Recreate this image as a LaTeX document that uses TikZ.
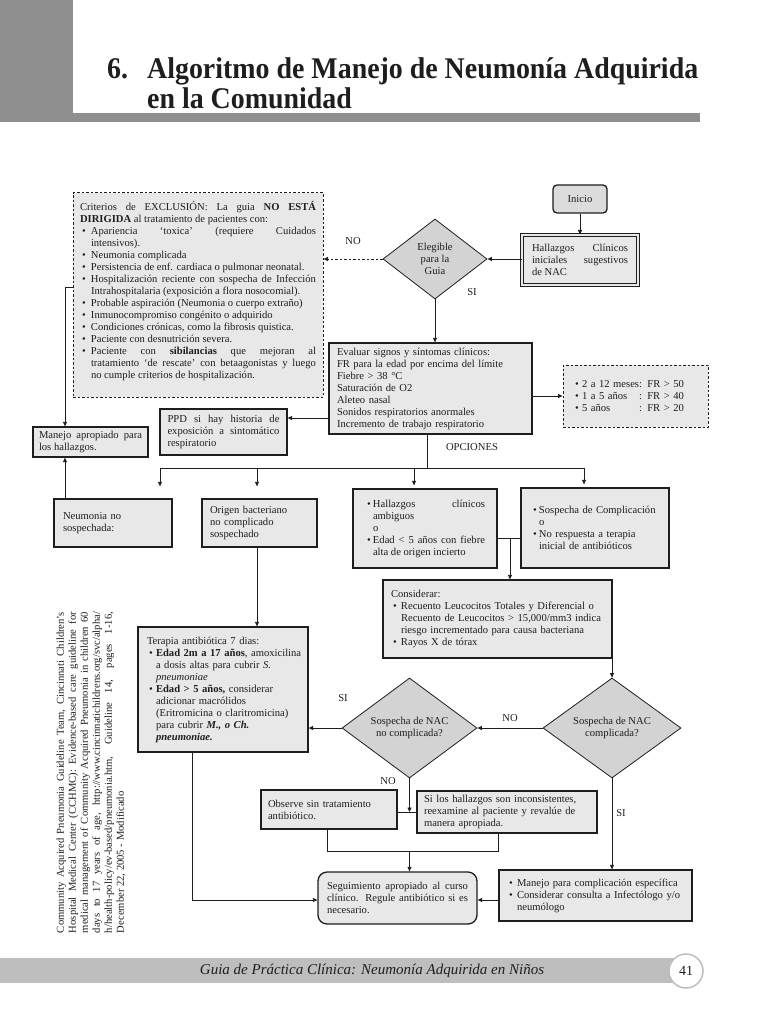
\documentclass[tikz,border=0pt]{standalone}
\usepackage{fontspec}
\setmainfont{Liberation Serif}
\usetikzlibrary{arrows.meta,shapes.geometric,calc}
\definecolor{boxg}{HTML}{E8E8E8}
\definecolor{diag}{HTML}{D3D3D3}
\definecolor{inig}{HTML}{DCDCDC}
\definecolor{barg}{HTML}{8F8F8F}
\definecolor{footg}{HTML}{BEBEBE}
\definecolor{ink}{HTML}{1E1E1E}
\newcommand\fsz{\fontsize{10.6}{12}\selectfont\hyphenpenalty=10000\exhyphenpenalty=10000\tolerance=9999\emergencystretch=2em}
\newcommand\itm[1][11pt]{\noindent\hangindent=#1\hangafter=1\makebox[#1][l]{\hspace{2pt}\textbullet}}
\begin{document}
\begin{tikzpicture}[x=1pt,y=-1pt,
  every node/.style={font=\fsz, text=ink},
  box/.style={draw=ink, line width=1.3pt, fill=boxg, inner sep=0pt},
  dbox/.style={draw=ink, dash pattern=on 2.5pt off 2pt, line width=1pt, fill=boxg, inner sep=0pt},
  dia/.style={diamond, draw=ink, line width=0.8pt, fill=diag, inner sep=0pt, align=center},
  arr/.style={-{Triangle[length=4.5pt,width=4pt]}, line width=0.8pt, draw=ink},
  ln/.style={line width=0.8pt, draw=ink},
  lab/.style={inner sep=0pt}]
\useasboundingbox (0,0) rectangle (768,1024);
\fill[white] (0,0) rectangle (768,1024);
% header
\fill[barg] (0,0) rectangle (73,122);
\fill[barg] (73,113) rectangle (700,122);
\node[lab, anchor=base west, font=\fontsize{30}{34}\selectfont\bfseries, xscale=0.93] (tnum) at (107,79) {6.};
\node[lab, anchor=base west, font=\fontsize{30}{34}\selectfont\bfseries, xscale=0.93] (tl1) at (147,79) {Algoritmo de Manejo de Neumonía Adquirida};
\node[lab, anchor=base west, font=\fontsize{30}{34}\selectfont\bfseries, xscale=0.93] (tl2) at (147,109) {en la Comunidad};
% footer
\fill[footg] (0,958) rectangle (682,983);
\node[circle, draw=footg, line width=1.5pt, fill=white, minimum size=34pt, inner sep=0pt, font=\fontsize{14}{16}\selectfont] (pnum) at (686,971) {41};
\node[lab, font=\fontsize{15}{17}\selectfont\itshape] (foot) at (372,971) {Guia de Práctica Clínica: Neumonía Adquirida en Niños};
% citation
\node[rotate=90, inner sep=0pt] (cite) at (91,772.5) {\parbox{321pt}{\fsz Community Acquired Pneumonia Guideline Team, Cincinnati Children’s\linebreak Hospital Medical Center (CCHMC): Evidence-based care guideline for\linebreak medical management of Community Acquired Pneumonia in children 60\linebreak days to 17 years of age, http://www.cincinnatichildrens.org/svc/alpha/\linebreak h/health-policy/ev-based/pneumonia.htm, Guideline 14, pages 1-16,\linebreak December 22, 2005 - Modificado}};
% nodes
\node[dbox, minimum width=250, minimum height=204, text width=236, align=justify] (excl) at (198,295) {Criterios de EXCLUSIÓN: La guia \textbf{NO ESTÁ}\linebreak \textbf{DIRIGIDA} al tratamiento de pacientes con:\par
\itm Apariencia ‘toxica’ (requiere Cuidados\linebreak intensivos).\par
\itm Neumonia complicada\par
\itm Persistencia de enf. cardiaca o pulmonar neonatal.\par
\itm Hospitalización reciente con sospecha de Infección\linebreak Intrahospitalaria (exposición a flora nosocomial).\par
\itm Probable aspiración (Neumonia o cuerpo extraño)\par
\itm Inmunocompromiso congénito o adquirido\par
\itm Condiciones crónicas, como la fibrosis quistica.\par
\itm Paciente con desnutrición severa.\par
\itm Paciente con \textbf{sibilancias} que mejoran al\linebreak tratamiento ‘de rescate’ con betaagonistas y luego\linebreak no cumple criterios de hospitalización.\par\vspace*{7pt}};
\node[box, rounded corners=4pt, fill=inig, minimum width=54, minimum height=28] (inicio) at (580,199) {Inicio};
\node[box, line width=1pt, double=boxg, double distance=1.4pt, minimum width=116, minimum height=50, text width=96, align=justify] (hall) at (580,260) {Hallazgos Clínicos\linebreak iniciales sugestivos\linebreak de NAC};
\node[dia, minimum width=104, minimum height=80, aspect=1.3] (eleg) at (435,259) {Elegible\\para la\\Guia};
\node[box, minimum width=203, minimum height=91, text width=187, align=left] (eval) at (430.5,388.5) {Evaluar signos y síntomas clínicos:\\FR para la edad por encima del límite\\Fiebre > 38 °C\\Saturación de O2\\Aleteo nasal\\Sonidos respiratorios anormales\\Incremento de trabajo respiratorio};
\node[dbox, minimum width=145, minimum height=62, text width=125, align=left] (fr) at (635.5,396) {\itm[9pt]2 a 12 meses: FR > 50\par\itm[9pt]\rlap{1 a 5 años}\hphantom{2 a 12 meses}: FR > 40\par\itm[9pt]\rlap{5 años}\hphantom{2 a 12 meses}: FR > 20\par};
\node[box, minimum width=127, minimum height=46, text width=112, align=justify] (ppd) at (223.5,432) {PPD si hay historia de\linebreak exposición a sintomático\linebreak respiratorio};
\node[box, minimum width=115, minimum height=30, text width=103, align=justify] (manejo) at (90.5,442) {Manejo apropiado para\linebreak los hallazgos.};
\node[box, minimum width=118, minimum height=48, text width=100, align=left] (neum) at (113,523) {Neumonia no\\sospechada:};
\node[box, minimum width=115, minimum height=48, text width=99, align=left] (origen) at (259.5,523) {Origen bacteriano\\no complicado\\sospechado};
\node[box, minimum width=144, minimum height=79, text width=120, align=justify] (ambig) at (425,528.5) {\itm[8pt]Hallazgos clínicos\linebreak ambiguos\par\hspace*{8pt}o\par\itm[8pt]Edad < 5 años con fiebre\linebreak alta de origen incierto\par};
\node[box, minimum width=148, minimum height=80, text width=128, align=left] (sosp) at (595,528) {\itm[8pt]Sospecha de Complicación\par\hspace*{8pt}o\par\itm[8pt]No respuesta a terapia\newline inicial de antibióticos\par};
\node[box, minimum width=229, minimum height=78, text width=213, align=left] (consid) at (497.5,619) {Considerar:\par\itm[10pt]Recuento Leucocitos Totales y Diferencial o\newline Recuento de Leucocitos > 15,000/mm3 indica\newline riesgo incrementado para causa bacteriana\par\itm[10pt]Rayos X de tórax\par};
\node[dia, minimum width=138, minimum height=100, aspect=1.38] (compl) at (612,728) {Sospecha de NAC\\complicada?};
\node[dia, minimum width=135, minimum height=100, aspect=1.35] (nocompl) at (409.5,728) {Sospecha de NAC\\no complicada?};
\node[box, minimum width=170, minimum height=125, text width=162, align=left] (terapia) at (223,689.5) {\leftskip=5pt Terapia antibiótica 7 dias:\par\itm[9pt]\textbf{Edad 2m a 17 años}, amoxicilina\newline a dosis altas para cubrir \textit{S.}\newline\textit{pneumoniae}\par\itm[9pt]\textbf{Edad > 5 años,} considerar\newline adicionar macrólidos\newline (Eritromicina o claritromicina)\newline para cubrir \textbf{\textit{M., o Ch.}}\newline\textbf{\textit{pneumoniae.}}\par};
\node[box, minimum width=136, minimum height=39, text width=122, align=left] (observe) at (329,809.5) {Observe sin tratamiento\\antibiótico.};
\node[box, minimum width=180, minimum height=42, text width=166, align=left] (silos) at (507,812) {Si los hallazgos son inconsistentes,\\reexamine al paciente y revalúe de\\manera apropiada.};
\node[box, rounded corners=9pt, minimum width=159, minimum height=52, text width=141, align=justify] (segu) at (397.5,898) {Seguimiento apropiado al curso\linebreak clínico. Regule antibiótico si es\linebreak necesario.};
\node[box, minimum width=193, minimum height=51, text width=177, align=left] (mcomp) at (595.5,895.5) {\itm[10pt]Manejo para complicación específica\par\itm[10pt]Considerar consulta a Infectólogo y/o\newline neumólogo\par};
% labels
\node[lab] (lno1) at (353,241) {NO};
\node[lab] (lsi1) at (472,292) {SI};
\node[lab] (lopc) at (472,447) {OPCIONES};
\node[lab] (lsi2) at (343,698) {SI};
\node[lab] (lno2) at (510,718) {NO};
\node[lab] (lno3) at (388,781) {NO};
\node[lab] (lsi3) at (621,813) {SI};
% connectors
\draw[arr] (inicio.south) -- (hall.north);
\draw[arr] (eleg.east -| hall.west) -- (eleg.east);
\draw[arr, dash pattern=on 2.5pt off 2pt] (eleg.west) -- (eleg.west -| excl.east);
\draw[arr] (eleg.south) -- (eleg.south |- eval.north);
\draw[arr] (fr.west -| eval.east) -- (fr.west);
\draw[arr] (eval.west |- 0,418) -- (ppd.east |- 0,418);
\draw[arr] (excl.west |- 0,287) -- (65,287) -- (65,0 |- manejo.north);
\draw[arr] (65,0 |- neum.north) -- (65,0 |- manejo.south);
\coordinate (opt) at (427,468);
\draw[ln] (427,0 |- eval.south) -- (opt);
\draw[ln] (160,468) -- (584,468);
\draw[arr, shorten >=12pt] (160,468) -- (160,0 |- neum.north);
\draw[arr, shorten >=12pt] (257,468) -- (257,0 |- origen.north);
\draw[arr, shorten >=3pt] (414,468) -- (414,0 |- ambig.north);
\draw[arr, shorten >=3pt] (584,468) -- (584,0 |- sosp.north);
\draw[arr] (257,0 |- origen.south) -- (257,0 |- terapia.north);
\draw[ln] (ambig.east |- 0,538) -- (sosp.west |- 0,538);
\draw[arr] (510,538) -- (510,0 |- consid.north);
\draw[arr] (compl.north |- consid.south) -- (compl.north);
\draw[arr] (compl.west) -- (nocompl.east);
\draw[arr] (nocompl.west) -- (nocompl.west -| terapia.east);
\coordinate (jn) at (409.5,812);
\draw[arr] (nocompl.south) -- (jn);
\draw[ln] (observe.east |- jn) -- (silos.west |- jn);
\draw[ln] (327,0 |- observe.south) -- (327,851) -- (498,851) -- (498,0 |- silos.south);
\draw[arr] (409.5,851) -- (409.5,0 |- segu.north);
\draw[arr] (compl.south) -- (compl.south |- mcomp.north);
\draw[arr] (mcomp.west |- 0,900) -- (segu.east |- 0,900);
\draw[arr] (192,0 |- terapia.south) -- (192,900) -- (segu.west |- 0,900);
\end{tikzpicture}
\end{document}
